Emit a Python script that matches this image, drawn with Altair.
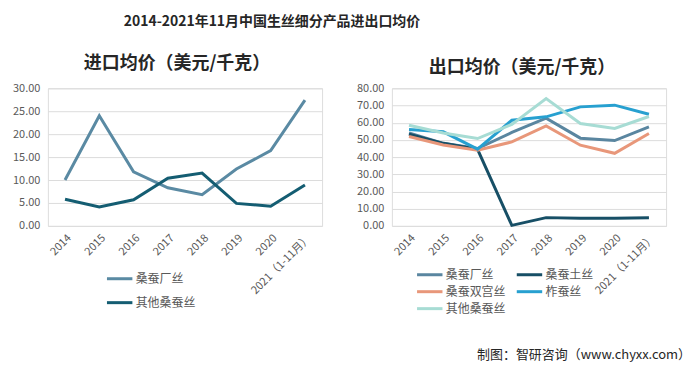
import altair as alt
import pandas as pd

years = ["2014", "2015", "2016", "2017", "2018", "2019", "2020", "2021（1-11月）"]

imp_series = ["桑蚕厂丝", "其他桑蚕丝"]
imp_changsi = [10.0, 24.0, 11.8, 8.3, 6.8, 12.4, 16.4, 27.4]
imp_other = [5.8, 4.1, 5.7, 10.4, 11.5, 4.9, 4.3, 8.9]

exp_series = ["桑蚕厂丝", "桑蚕土丝", "桑蚕双宫丝", "柞蚕丝", "其他桑蚕丝"]
exp_changsi = [54.0, 48.0, 45.0, 54.3, 62.6, 51.0, 49.6, 57.6]
exp_tusi = [53.3, 48.0, 44.5, 0.3, 4.8, 4.5, 4.5, 4.7]
exp_shuanggong = [52.0, 47.0, 44.0, 48.8, 58.1, 46.9, 42.2, 53.7]
exp_zuocan = [56.0, 54.7, 44.6, 61.4, 63.4, 69.2, 70.2, 64.9]
exp_other = [58.5, 54.0, 50.8, 59.0, 74.0, 59.5, 56.6, 63.6]

main_title = "2014-2021年11月中国生丝细分产品进出口均价"
left_title = "进口均价（美元/千克）"
right_title = "出口均价（美元/千克）"
footer = ["制图：智研咨询（www.chyxx.com）"]

imp_colors = ["#5a8aa3", "#145d72"]
exp_colors = ["#5a86a0", "#174f66", "#e8977a", "#27a0d0", "#a7dcd4"]

FONT = "Noto Sans CJK SC"
GREY = "#595959"
LINE_SYMBOL = "M-1.5,0H1.5"

rows = []
for s, vals in zip(imp_series, [imp_changsi, imp_other]):
    for y, v in zip(years, vals):
        rows.append({"year": y, "series": s, "value": v})
df_imp = pd.DataFrame(rows)

rows = []
for s, vals in zip(exp_series, [exp_changsi, exp_tusi, exp_shuanggong, exp_zuocan, exp_other]):
    for y, v in zip(years, vals):
        rows.append({"year": y, "series": s, "value": v})
df_exp = pd.DataFrame(rows)

xaxis = alt.Axis(title=None, labelAngle=-45, domain=False, ticks=False, grid=False,
                 labelColor=GREY, labelFontSize=11, labelFont=FONT, labelPadding=6)


def yaxis(vals):
    return alt.Axis(title=None, values=vals, format=".2f", domain=False, ticks=False,
                    gridColor="#dcdcdc", labelColor=GREY, labelFontSize=11,
                    labelFont=FONT, labelPadding=8)


left = alt.Chart(df_imp).mark_line(strokeWidth=3).encode(
    x=alt.X("year:N", sort=years, scale=alt.Scale(type="point", padding=0.5), axis=xaxis),
    y=alt.Y("value:Q", scale=alt.Scale(domain=[0, 30]),
            axis=yaxis([0, 5, 10, 15, 20, 25, 30])),
    color=alt.Color("series:N", sort=imp_series,
                    scale=alt.Scale(domain=imp_series, range=imp_colors),
                    legend=alt.Legend(title=None, orient="none", legendX=62, legendY=181,
                                      direction="vertical", symbolType=LINE_SYMBOL,
                                      symbolStrokeWidth=3, symbolSize=289,
                                      labelFontSize=12, labelColor=GREY, labelFont=FONT,
                                      rowPadding=8, labelOffset=6)),
).properties(width=275, height=138,
             title=alt.TitleParams(left_title, font=FONT, fontSize=18, fontWeight="bold",
                                   color="#262626", anchor="middle", offset=9, dx=-8))

right_lines = alt.Chart(df_exp).mark_line(strokeWidth=3).encode(
    x=alt.X("year:N", sort=years, scale=alt.Scale(type="point", padding=0.5), axis=xaxis),
    y=alt.Y("value:Q", scale=alt.Scale(domain=[0, 80]),
            axis=yaxis([0, 10, 20, 30, 40, 50, 60, 70, 80])),
    color=alt.Color("series:N", sort=exp_series,
                    scale=alt.Scale(domain=exp_series, range=exp_colors),
                    legend=alt.Legend(title=None, orient="none", legendX=28, legendY=177,
                                      columns=2, direction="horizontal",
                                      symbolType=LINE_SYMBOL,
                                      symbolStrokeWidth=3, symbolSize=289,
                                      labelFontSize=12, labelColor=GREY, labelFont=FONT,
                                      rowPadding=1, columnPadding=4, labelOffset=6,
                                      labelLimit=80)),
)

foot = alt.Chart(pd.DataFrame({"t": footer})).mark_text(
    align="right", baseline="middle", font=FONT, fontSize=13, color="#262626"
).encode(text="t:N", x=alt.value(300), y=alt.value(268))

right = alt.layer(right_lines, foot).properties(
    width=275, height=138,
    title=alt.TitleParams(right_title, font=FONT, fontSize=18, fontWeight="bold",
                          color="#262626", anchor="middle", offset=5, dx=-7))

chart = alt.hconcat(left, right, spacing=33).resolve_scale(
    color="independent", x="independent", y="independent"
).properties(
    title=alt.TitleParams(main_title, font=FONT, fontSize=14, fontWeight="bold",
                          color="#262626", anchor="middle", offset=26, dx=-80),
    padding={"left": 4, "top": 6, "right": 0, "bottom": 0},
).configure_view(stroke=None).configure(background="white")

chart.save("out.html", embed_options={"renderer": "svg", "actions": False})
